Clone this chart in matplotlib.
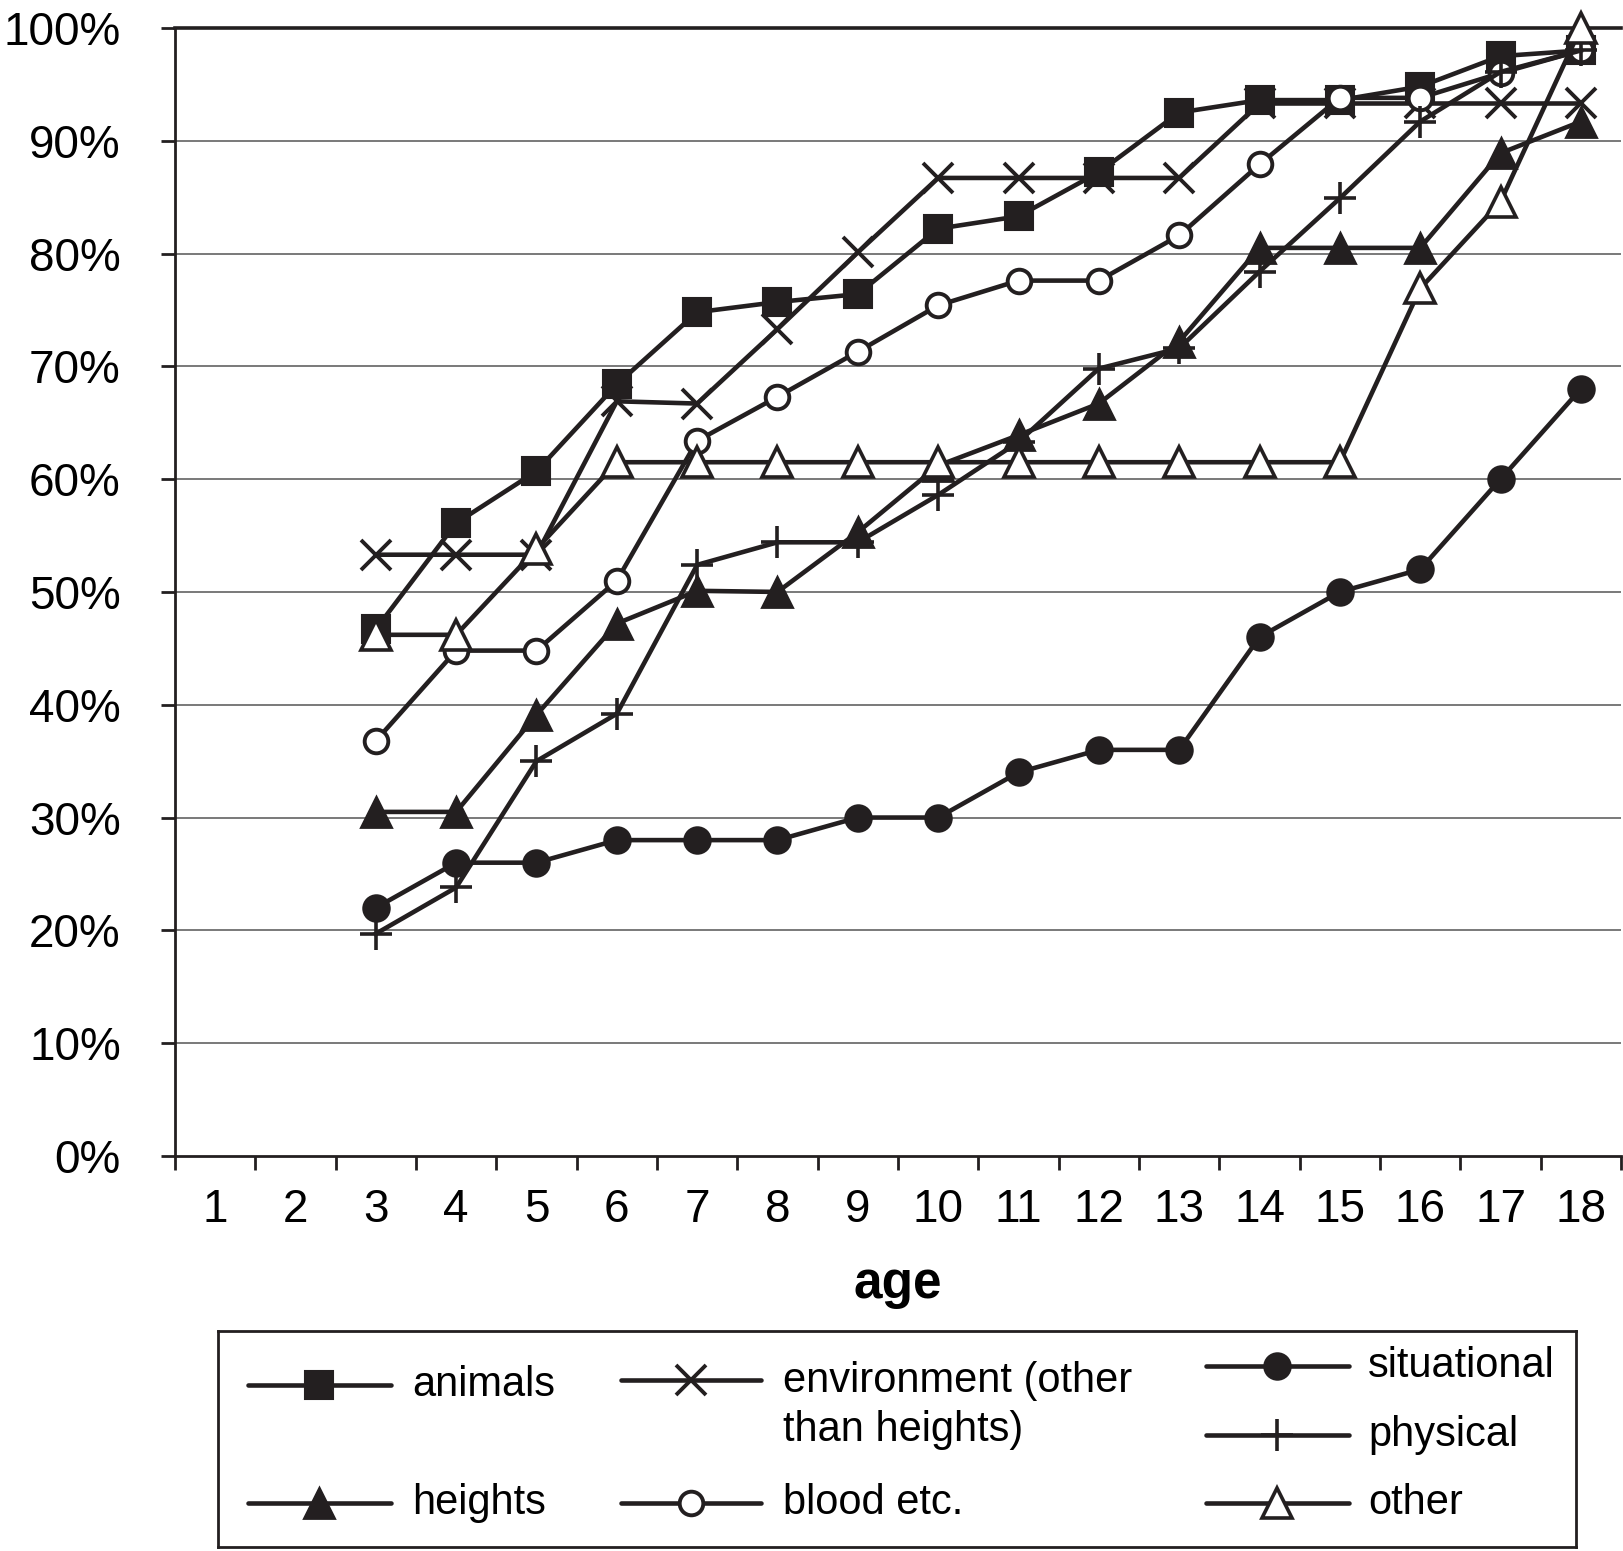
import numpy as np
import matplotlib.pyplot as plt
from matplotlib.ticker import FixedLocator, NullFormatter

plt.rcParams['font.family'] = ['Liberation Sans', 'DejaVu Sans']

# ===Data=== #
ages = list(range(1, 19))
plot_ages = list(range(3, 19))

animals = [46.7, 56.1, 60.7, 68.4, 74.8, 75.7, 76.4, 82.2, 83.3, 87.2, 92.5, 93.6, 93.6, 94.8, 97.5, 98.0]
environment = [53.3, 53.3, 53.3, 66.9, 66.7, 73.3, 80.1, 86.7, 86.7, 86.7, 86.7, 93.3, 93.3, 93.3, 93.3, 93.3]
heights = [30.5, 30.5, 39.1, 47.2, 50.1, 50.0, 55.3, 61.2, 63.9, 66.7, 72.2, 80.5, 80.5, 80.5, 88.9, 91.7]
blood = [36.8, 44.8, 44.8, 51.0, 63.4, 67.3, 71.3, 75.4, 77.6, 77.6, 81.6, 87.9, 93.8, 93.8, 96.0, 98.0]
situational = [22.0, 26.0, 26.0, 28.0, 28.0, 28.0, 30.0, 30.0, 34.0, 36.0, 36.0, 46.0, 50.0, 52.0, 60.0, 68.0]
physical = [19.7, 23.8, 35.0, 39.2, 52.4, 54.4, 54.4, 58.6, 63.3, 69.8, 71.6, 78.4, 84.9, 91.7, 96.1, 98.0]
other = [46.2, 46.2, 53.8, 61.5, 61.5, 61.5, 61.5, 61.5, 61.5, 61.5, 61.5, 61.5, 61.5, 76.9, 84.6, 100.0]

series = [
    ("animals", animals),
    ("environment (other\nthan heights)", environment),
    ("heights", heights),
    ("blood etc.", blood),
    ("situational", situational),
    ("physical", physical),
    ("other", other),
]

ink = '#231f20'
styles = {
    "animals": dict(marker='s', ms=20, mfc=ink, mec=ink, mew=1.5),
    "environment (other\nthan heights)": dict(marker='x', ms=22, mfc=ink, mec=ink, mew=2.8),
    "heights": dict(marker='^', ms=21, mfc=ink, mec=ink, mew=2),
    "blood etc.": dict(marker='o', ms=17, mfc='white', mec=ink, mew=2.8),
    "situational": dict(marker='o', ms=19, mfc=ink, mec=ink, mew=1.5),
    "physical": dict(marker='+', ms=23, mfc=ink, mec=ink, mew=2.6),
    "other": dict(marker='^', ms=21, mfc='white', mec=ink, mew=2.6),
}

# legend slots in pixel units of the legend box: (line start, line end, row y, text x)
legend_slots = {
    "animals": (248, 391, 1385, 412),
    "environment (other\nthan heights)": (621, 761, 1380, 783),
    "situational": (1206, 1349, 1366, 1368),
    "physical": (1206, 1349, 1435, 1368),
    "heights": (248, 391, 1503, 412),
    "blood etc.": (621, 761, 1503, 783),
    "other": (1206, 1349, 1503, 1368),
}

# ===Figure=== #
fig = plt.figure(figsize=(16.23, 15.51), dpi=100)
ax = fig.add_axes([0.1078, 0.2547, 0.891, 0.7273])

for name, vals in series:
    ax.plot(plot_ages, np.array(vals) / 100.0, color=ink, lw=3.3, solid_joinstyle='round',
            clip_on=False, **styles[name])

# ===Axes=== #
ax.set_xlim(0.5, 18.5)
ax.set_ylim(0, 1.0)

ax.xaxis.set_major_locator(FixedLocator(np.arange(0.5, 19.0, 1.0)))
ax.xaxis.set_major_formatter(NullFormatter())
ax.xaxis.set_minor_locator(FixedLocator(ages))
ax.set_xticklabels([str(a) for a in ages], minor=True)
ax.tick_params(axis='x', which='major', direction='out', length=10, width=2, color=ink)
ax.tick_params(axis='x', which='minor', length=0, pad=23, labelsize=33)

yt = np.arange(0, 1.01, 0.1)
ax.set_yticks(yt)
ax.set_yticklabels([f"{int(round(v * 100))}%" for v in yt])
ax.tick_params(axis='y', direction='out', length=10, width=2, color=ink, pad=29, labelsize=33)

for v in yt[1:-1]:
    ax.axhline(v, color='#555555', lw=1.1, zorder=0.5)
ax.axhline(1.0, color=ink, lw=2.6, zorder=0.5, clip_on=False)

ax.spines['top'].set_visible(False)
ax.spines['right'].set_visible(False)
ax.spines['left'].set_linewidth(2)
ax.spines['bottom'].set_linewidth(2)
ax.spines['left'].set_color(ink)
ax.spines['bottom'].set_color(ink)

ax.set_xlabel("age", fontsize=37, fontweight='bold', labelpad=20)

# ===Legend box=== #
lax = fig.add_axes([0.1343, 0.0026, 0.8367, 0.1393])
lax.set_xlim(218, 1576)
lax.set_ylim(1547, 1331)
lax.set_xticks([])
lax.set_yticks([])
for s in lax.spines.values():
    s.set_linewidth(2)
    s.set_color(ink)

for name, vals in series:
    x0, x1, yy, tx = legend_slots[name]
    st = styles[name]
    lax.plot([x0, x1], [yy, yy], color=ink, lw=3.3, solid_capstyle='round')
    lax.plot([(x0 + x1) / 2.0], [yy], color=ink, lw=0, **st)
    if "\n" in name:
        lax.text(tx, yy - 19, name, fontsize=30, va='top', ha='left', linespacing=1.3)
    else:
        lax.text(tx, yy, name, fontsize=30, va='center', ha='left')

#===Save Figure===#
fig.savefig("out.png", dpi=100)
